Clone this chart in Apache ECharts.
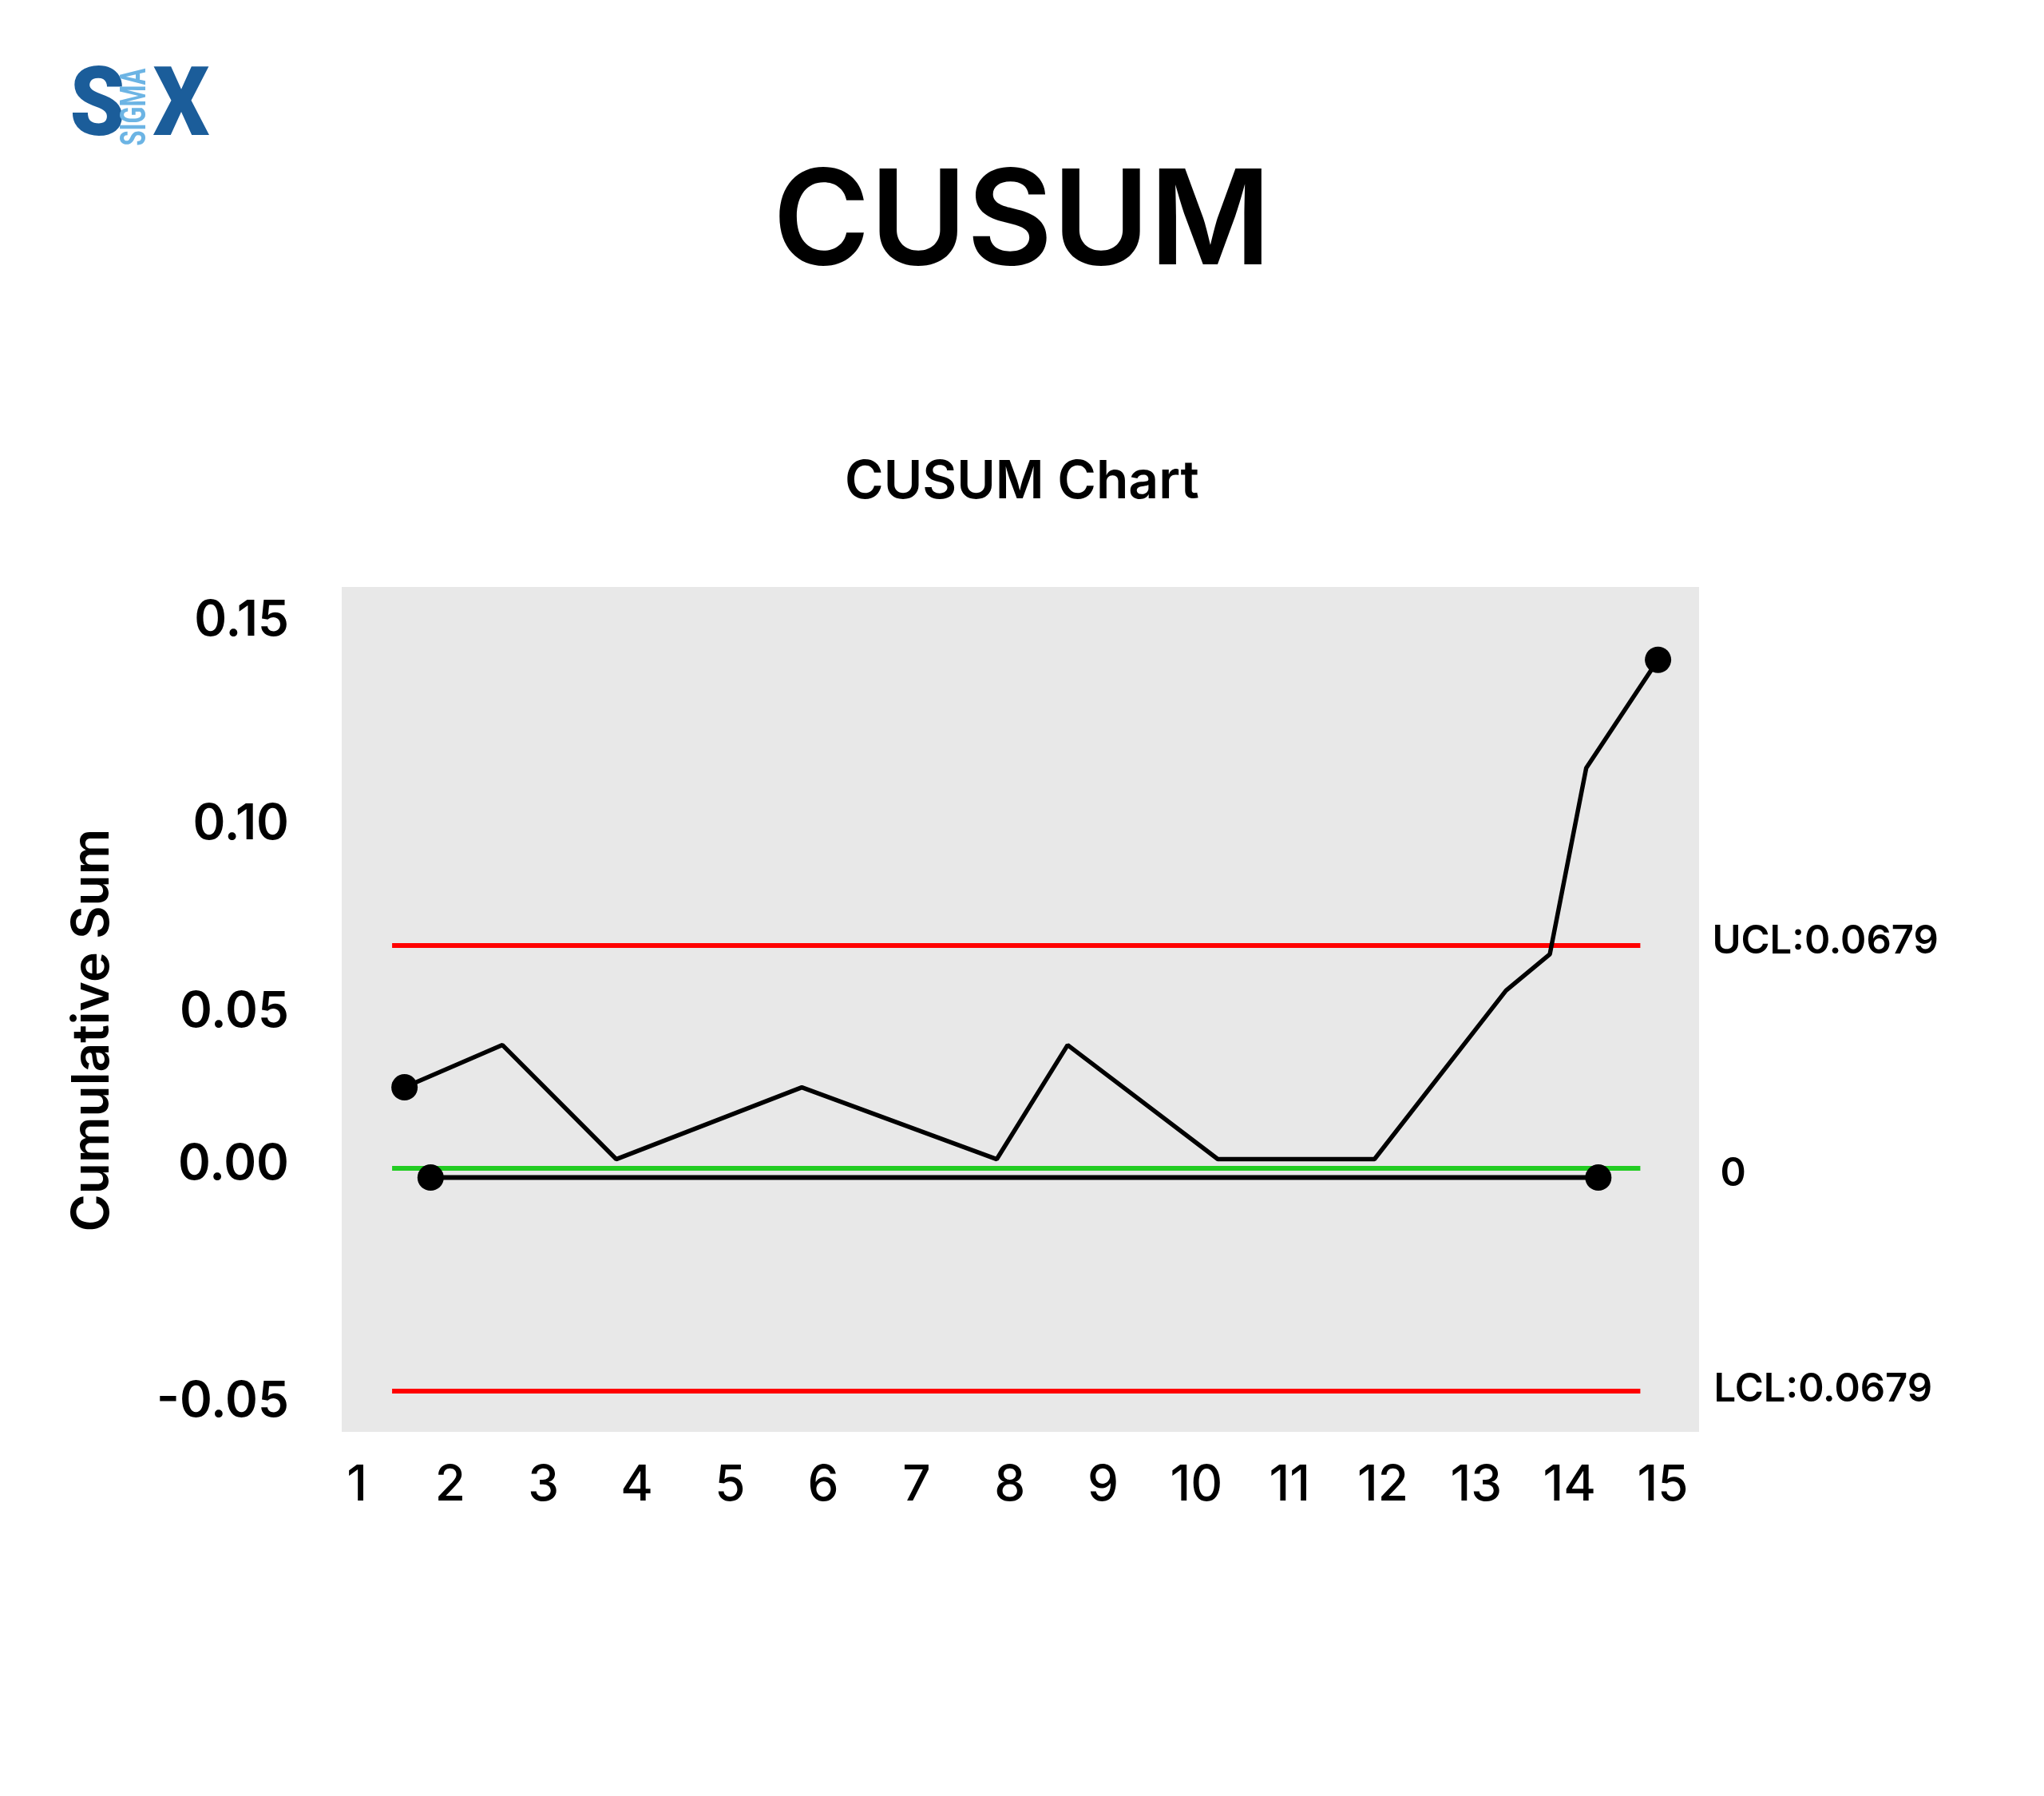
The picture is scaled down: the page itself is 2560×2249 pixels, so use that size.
<!DOCTYPE html>
<html>
<head>
<meta charset="utf-8">
<script src="https://cdn.jsdelivr.net/npm/echarts@6/dist/echarts.min.js"></script>
<style>
html,body{margin:0;padding:0;background:#fff;}
#chart{width:2560px;height:2249px;}
</style>
</head>
<body>
<div id="chart"></div>
<script>
// ---- data ----
const cusumX = [1.51, 2.56, 3.78, 5.77, 7.86, 8.62, 10.23, 11.91, 13.32, 13.79, 14.18, 14.95];
const cusumY = [0.0247, 0.0376, 0.0028, 0.0247, 0.0028, 0.0376, 0.0028, 0.0028, 0.0542, 0.0653, 0.1220, 0.1550];
const baseX = [1.79, 14.31];
const baseY = [-0.0028, -0.0028];
const limitX = [1.377, 14.76];
const uclValue = 0.0679;
const centerValue = 0;
const lclValue = -0.0679;
const xTickValues = [1, 2, 3, 4, 5, 6, 7, 8, 9, 10, 11, 12, 13, 14, 15];
const yTickLabels = ['-0.05', '0.00', '0.05', '0.10', '0.15'];
const yTickAt = [-0.0711, 0.0012, 0.0477, 0.1049, 0.1670];
const xRange = [0.837, 15.39];
const yRange = [-0.0803, 0.1772];

const pairs = (xs, ys) => xs.map((x, i) => [x, ys[i]]);
const flat = (xs, v) => xs.map(x => [x, v]);

const FONT = 'Inter, "Noto Sans", sans-serif';
const chart = echarts.init(document.getElementById('chart'), null, {renderer: 'canvas'});

function limitSeries(name, value, color, label, dist, off) {
  return {
    name: name, type: 'line', data: flat(limitX, value), showSymbol: false, symbol: 'none',
    lineStyle: {color: color, width: 6}, z: 2, silent: true,
    endLabel: {show: true, formatter: label, distance: dist, offset: off,
      fontFamily: FONT, fontSize: 49, fontWeight: 600, color: '#000'}
  };
}

const lastIdx = cusumX.length - 1;
const option = {
  animation: false,
  backgroundColor: '#ffffff',
  title: [
    {text: 'CUSUM', left: 'center', top: 194,
      textStyle: {fontFamily: FONT, fontSize: 165, fontWeight: 600, color: '#000'}},
    {text: 'CUSUM Chart', left: 'center', top: 566,
      textStyle: {fontFamily: FONT, fontSize: 66, fontWeight: 600, color: '#000'}}
  ],
  graphic: [
    {type: 'text', x: 122, y: 139, scaleX: 0.92,
      style: {text: 'S', fontFamily: 'Roboto, sans-serif', fontSize: 120, fontWeight: 900, fill: '#1b5d9a', align: 'center', verticalAlign: 'middle'}},
    {type: 'text', x: 171, y: 134, rotation: Math.PI / 2, scaleX: 0.7,
      style: {text: 'SIGMA', fontFamily: 'Roboto, sans-serif', fontSize: 44, fontWeight: 700, fill: '#6cb4e4', align: 'center', verticalAlign: 'middle'}},
    {type: 'text', x: 227, y: 139, scaleX: 0.92,
      style: {text: 'X', fontFamily: 'Roboto, sans-serif', fontSize: 120, fontWeight: 900, fill: '#1b5d9a', align: 'center', verticalAlign: 'middle'}},
    {type: 'text', x: 117, y: 1290, rotation: Math.PI / 2,
      style: {text: 'Cumulative Sum', fontFamily: FONT, fontSize: 64, fontWeight: 600, fill: '#000', align: 'center', verticalAlign: 'middle'}}
  ],
  grid: {left: 428, top: 735, width: 1700, height: 1058, show: true, backgroundColor: '#e8e8e8', borderWidth: 0},
  xAxis: {
    type: 'value', min: xRange[0], max: xRange[1],
    axisLine: {show: false}, axisTick: {show: false}, splitLine: {show: false},
    axisLabel: {customValues: xTickValues, fontFamily: FONT, fontSize: 62, fontWeight: 500, color: '#000', margin: 36}
  },
  yAxis: {
    type: 'value', min: yRange[0], max: yRange[1],
    axisLine: {show: false}, axisTick: {show: false}, splitLine: {show: false},
    axisLabel: {
      customValues: yTickAt, fontFamily: FONT, fontSize: 62, fontWeight: 600, color: '#000', margin: 66,
      formatter: function (v) {
        let best = 0;
        yTickAt.forEach((t, i) => { if (Math.abs(t - v) < Math.abs(yTickAt[best] - v)) best = i; });
        return yTickLabels[best];
      }
    }
  },
  series: [
    limitSeries('UCL', uclValue, '#ff0000', 'UCL:0.0679', 90, [0, -5]),
    limitSeries('Center', centerValue, '#22cc22', '0', 100, [0, 7]),
    limitSeries('LCL', lclValue, '#ff0000', 'LCL:0.0679', 92, [0, -2]),
    {
      name: 'Baseline', type: 'line', data: pairs(baseX, baseY), symbol: 'circle', symbolSize: 33,
      itemStyle: {color: '#000'}, lineStyle: {color: '#000', width: 6}, z: 3, silent: true
    },
    {
      name: 'CUSUM', type: 'line', data: pairs(cusumX, cusumY), symbol: 'circle', showAllSymbol: true,
      symbolSize: function (val, params) { return (params.dataIndex === 0 || params.dataIndex === lastIdx) ? 33 : 0; },
      itemStyle: {color: '#000'}, lineStyle: {color: '#000', width: 5.5}, z: 4, silent: true
    }
  ]
};
chart.setOption(option);
</script>
</body>
</html>
